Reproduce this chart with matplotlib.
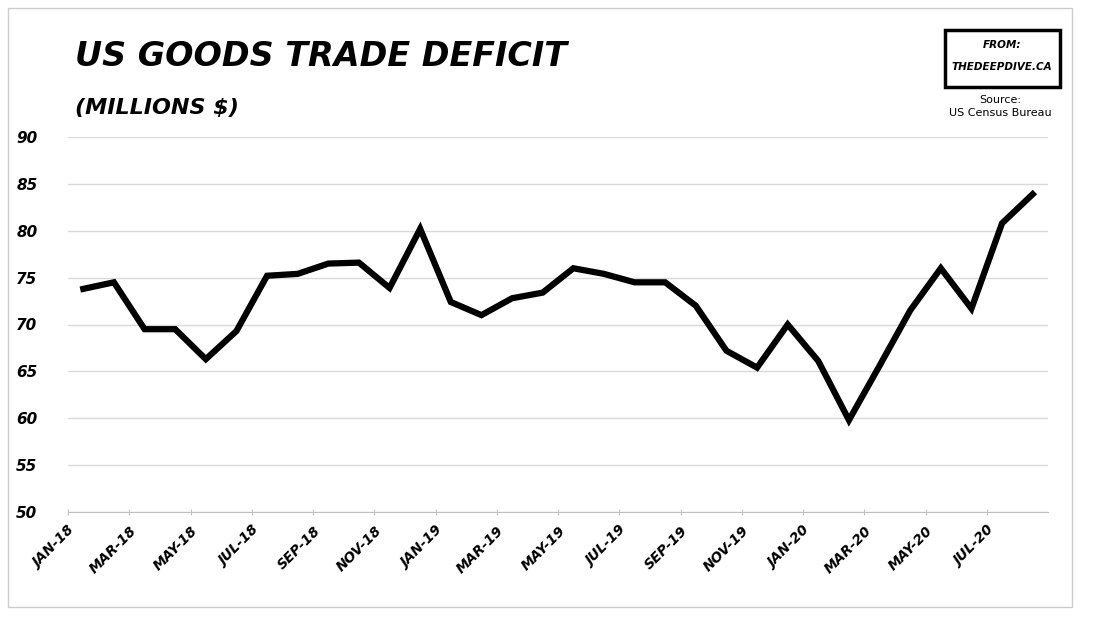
import matplotlib
matplotlib.use("Agg")
import matplotlib.pyplot as plt
from matplotlib.patches import Rectangle

months = ["Jan-18","Feb-18","Mar-18","Apr-18","May-18","Jun-18","Jul-18","Aug-18","Sep-18","Oct-18","Nov-18","Dec-18",
          "Jan-19","Feb-19","Mar-19","Apr-19","May-19","Jun-19","Jul-19","Aug-19","Sep-19","Oct-19","Nov-19","Dec-19",
          "Jan-20","Feb-20","Mar-20","Apr-20","May-20","Jun-20","Jul-20","Aug-20"]
values = [73.8,74.5,69.5,69.5,66.3,69.3,75.2,75.4,76.5,76.6,73.9,80.2,
          72.4,71.0,72.8,73.4,76.0,75.4,74.5,74.5,72.0,67.2,65.4,70.0,
          66.1,59.8,65.6,71.5,76.0,71.7,80.8,83.9]
yticks = [50,55,60,65,70,75,80,85,90]

W, H = 1094, 624
fig = plt.figure(figsize=(W/100, H/100), dpi=100)
ax = fig.add_axes([68/W, 1-512/H, (1048-68)/W, (512-137)/H])
x = list(range(len(values)))
ax.plot(x, values, color="black", lw=4.5, solid_joinstyle="miter")
ax.set_ylim(50, 90)
ax.set_xlim(-0.5, len(values) - 0.5)
ax.set_yticks(yticks)
ax.set_yticklabels([str(v) for v in yticks], fontsize=11, fontweight="bold", fontstyle="italic")
ax.set_xticks([i - 0.5 for i in x[::2]])
ax.set_xticklabels([m.upper() for m in months[::2]], rotation=45, ha="right", rotation_mode="anchor",
                   fontsize=10, fontweight="bold", fontstyle="italic")
ax.grid(axis="y", color="#d9d9d9", lw=1)
ax.set_axisbelow(True)
for s in ["top", "right", "left"]:
    ax.spines[s].set_visible(False)
ax.spines["bottom"].set_color("#bfbfbf")
ax.tick_params(axis="y", length=0, pad=22)
ax.tick_params(axis="x", length=5, color="#bfbfbf", direction="inout", pad=6)

fig.patches.append(Rectangle((8/W, 1-607/H), (1072-8)/W, (607-8)/H, transform=fig.transFigure,
                             fill=False, ec="#cccccc", lw=1))
fig.text(75/W, 1-57/H, "US GOODS TRADE DEFICIT", fontsize=24, fontweight="bold", fontstyle="italic", va="center")
fig.text(75/W, 1-108/H, "(MILLIONS $)", fontsize=16, fontweight="bold", fontstyle="italic", va="center")
fig.patches.append(Rectangle((945/W, 1-87/H), (1060-945)/W, (87-30)/H, transform=fig.transFigure,
                             fill=False, ec="black", lw=2.5))
fig.text(1002/W, 1-45/H, "FROM:", fontsize=7.5, fontweight="bold", fontstyle="italic", ha="center", va="center")
fig.text(1002/W, 1-67/H, "THEDEEPDIVE.CA", fontsize=7.5, fontweight="bold", fontstyle="italic", ha="center", va="center")
fig.text(1000/W, 1-100/H, "Source:", fontsize=8, ha="center", va="center")
fig.text(1000/W, 1-113/H, "US Census Bureau", fontsize=8, ha="center", va="center")
fig.savefig("out.png", dpi=100)
